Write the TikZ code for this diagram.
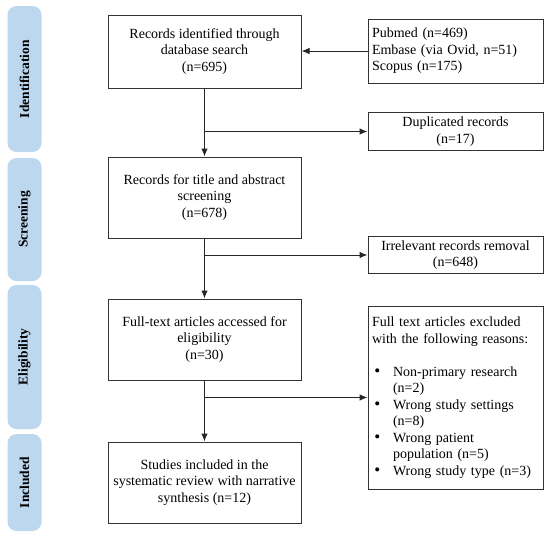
\documentclass[tikz,border=0pt]{standalone}
\usepackage{fontspec}
\setmainfont{Liberation Serif}
\usetikzlibrary{arrows.meta}
\definecolor{stageblue}{RGB}{189,215,238}
\newcommand{\bulletmark}{\makebox[21pt][l]{\,\raisebox{-0.5pt}{\fontsize{17}{16.5}\selectfont\textbullet}}}
\begin{document}
\begin{tikzpicture}[x=1pt, y=-1pt,
    box/.style={draw=black!80, line width=1pt, align=center, inner sep=4pt,
        font=\fontsize{14}{16.5}\selectfont},
    stage/.style={fill=stageblue, rounded corners=9pt, rotate=90, inner sep=0pt,
        minimum height=34pt, font=\bfseries\fontsize{13.5}{15}\selectfont},
    link/.style={draw=black!85, line width=1pt, -{Latex[length=8pt,width=6.5pt]}}]
    \useasboundingbox (0,0) rectangle (550,536);

    % stage bars on the left
    \node[stage, minimum width=146pt] (Ident)  at (24.5,79)    {Identification};
    \node[stage, minimum width=123pt] (Screen) at (24.5,219.5) {Screening};
    \node[stage, minimum width=144pt] (Elig)   at (24.5,357)   {Eligibility};
    \node[stage, minimum width=97pt]  (Incl)   at (24.5,482.5) {Included};

    % main column
    \node[box, minimum width=193pt, minimum height=73pt] (Found) at (204.5,51.5)
        {Records identified through\\database search\\(n=695)};
    \node[box, minimum width=193pt, minimum height=81pt] (Title) at (204.5,197.5)
        {Records for title and abstract\\screening\\(n=678)};
    \node[box, minimum width=193pt, minimum height=81pt] (FullText) at (204.5,339.5)
        {Full-text articles accessed for\\eligibility\\(n=30)};
    \node[box, minimum width=193pt, minimum height=81pt] (Studies) at (204.5,482.5)
        {Studies included in the\\systematic review with narrative\\synthesis (n=12)};

    % side column
    \node[box, align=left, text width=167pt, minimum height=64pt] (Sources) at (455.5,51)
        {Pubmed (n=469)\\Embase (via Ovid, n=51)\\Scopus (n=175)};
    \node[box, minimum width=175pt, minimum height=35pt] (Dupl) at (455.5,131.5)
        {Duplicated records\\(n=17)};
    \node[box, minimum width=175pt, minimum height=36pt] (Irrel) at (455.5,255)
        {Irrelevant records removal\\(n=648)};
    \node[box, align=left, text width=167pt, minimum height=183pt] (Excl) at (455.5,397.5)
        {Full text articles excluded\\with the following reasons:\\[16.5pt]
         \bulletmark Non-primary research\\
         \hspace*{21pt}(n=2)\\
         \bulletmark Wrong study settings\\
         \hspace*{21pt}(n=8)\\
         \bulletmark Wrong patient\\
         \hspace*{21pt}population (n=5)\\
         \bulletmark Wrong study type (n=3)};

    % connectors
    \draw[link] (Sources.west) -- (Sources.west -| Found.east);
    \draw[link] (Found) -- (Title);
    \draw[link] (Title) -- (FullText);
    \draw[link] (FullText) -- (Studies);
    \draw[link] (Found.south |- Dupl.west) -- (Dupl.west);
    \draw[link] (Title.south |- Irrel.west) -- (Irrel.west);
    \draw[link] (FullText.south |- Excl.west) -- (Excl.west);
\end{tikzpicture}
\end{document}
